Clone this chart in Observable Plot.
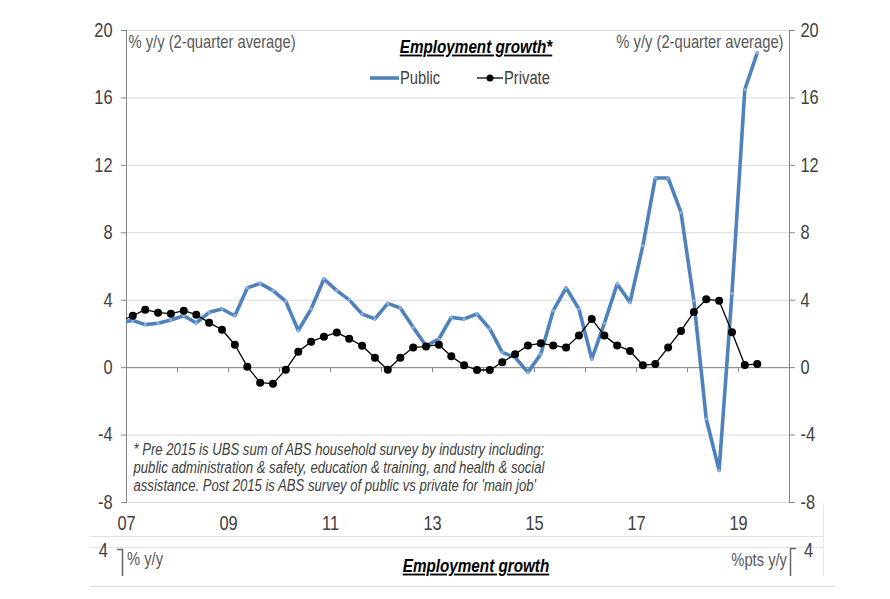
<!DOCTYPE html>
<html><head><meta charset="utf-8">
<script src="https://cdn.jsdelivr.net/npm/d3@7"></script>
<script src="https://cdn.jsdelivr.net/npm/@observablehq/plot@0.6"></script>
<style>html,body{margin:0;padding:0;background:#fff;} #chart{width:890px;height:599px;overflow:hidden}</style>
</head><body><div id="chart"></div>
<script>
// ---- data (quarterly, % y/y, 2-quarter average) ----
const quarters = [
  "2006Q4",
  "2007Q1","2007Q2","2007Q3","2007Q4",
  "2008Q1","2008Q2","2008Q3","2008Q4",
  "2009Q1","2009Q2","2009Q3","2009Q4",
  "2010Q1","2010Q2","2010Q3","2010Q4",
  "2011Q1","2011Q2","2011Q3","2011Q4",
  "2012Q1","2012Q2","2012Q3","2012Q4",
  "2013Q1","2013Q2","2013Q3","2013Q4",
  "2014Q1","2014Q2","2014Q3","2014Q4",
  "2015Q1","2015Q2","2015Q3","2015Q4",
  "2016Q1","2016Q2","2016Q3","2016Q4",
  "2017Q1","2017Q2","2017Q3","2017Q4",
  "2018Q1","2018Q2","2018Q3","2018Q4",
  "2019Q1","2019Q2"
];
const publicGrowth = [
  2.7,
  2.8, 2.55, 2.63, 2.83,
  3.08, 2.65, 3.28, 3.48,
  3.08, 4.73, 5.0, 4.57,
  3.93, 2.2, 3.48, 5.26,
  4.57, 4.02, 3.18, 2.89,
  3.81, 3.54, 2.39, 1.3,
  1.7, 2.98, 2.89, 3.18,
  2.3, 0.91, 0.61, -0.28,
  0.81, 3.38, 4.73, 3.48,
  0.51, 2.63, 4.96, 3.87,
  7.24, 11.25, 11.25, 9.21,
  3.97, -3.05, -6.1, 4.4,
  16.5, 18.67
];
const privateGrowth = [
  2.75,
  3.08, 3.44, 3.26, 3.2,
  3.38, 3.14, 2.67, 2.25,
  1.36, 0.06, -0.89, -0.95,
  -0.12, 0.95, 1.54, 1.84,
  2.08, 1.72, 1.3, 0.59,
  -0.12, 0.59, 1.19, 1.26,
  1.36, 0.67, 0.14, -0.14,
  -0.14, 0.32, 0.79, 1.32,
  1.44, 1.32, 1.19, 1.9,
  2.89, 1.9, 1.32, 0.99,
  0.14, 0.22, 1.2, 2.18,
  3.3, 4.05, 3.97, 2.1,
  0.16, 0.21
];
const yTicks = [-8, -4, 0, 4, 8, 12, 16, 20];
const xTickLabels = ["07", "09", "11", "13", "15", "17", "19"];
const seriesNames = ["Public", "Private"];
const footnote = [
  "* Pre 2015 is UBS sum of ABS household survey by industry including:",
  "public administration & safety, education & training, and health & social",
  "assistance. Post 2015 is ABS survey of public vs private for 'main job'"
];

const FAM = "'Liberation Sans', Arial, sans-serif";
const SQUEEZE = 0.82; // the original's type is horizontally condensed

const qDate = q => new Date(Date.UTC(+q.slice(0, 4), (+q.slice(5) - 1) * 3 + 1, 15));
const rows = quarters.map((q, i) => ({date: qDate(q), pub: publicGrowth[i], priv: privateGrowth[i]}));
const x0 = new Date(Date.UTC(2007, 0, 1)), x1 = new Date(Date.UTC(2020, 0, 1));
const inDomain = rows.filter(d => d.date >= x0 && d.date <= x1);
const labelDates = xTickLabels.map(s => new Date(Date.UTC(2000 + +s, 0, 1)));

const BLUE = "#4F81BD", AX = "#868686", GRID = "#d9d9d9", TXT = "#404040", TXT2 = "#595959";

const chart = Plot.plot({
  width: 890, height: 599,
  marginLeft: 126, marginRight: 101, marginTop: 30, marginBottom: 97,
  style: {fontFamily: FAM, fontSize: "20px", color: TXT, background: "#fff", overflow: "visible"},
  x: {type: "utc", domain: [x0, x1]},
  y: {domain: [-8, 20]},
  marks: [
    Plot.gridY(yTicks, {stroke: GRID, strokeOpacity: 1, strokeWidth: 1}),
    Plot.ruleY([0], {stroke: AX, strokeWidth: 1}),
    Plot.ruleX(d3.utcYears(x0, d3.utcYear.offset(x1, 1)), {y1: 0, y2: 0, insetBottom: -5, stroke: AX}),
    Plot.frame({anchor: "left", stroke: AX}),
    Plot.frame({anchor: "right", stroke: AX}),
    Plot.axisY(yTicks, {anchor: "left", tickSize: 5, tickPadding: 9, stroke: AX, color: TXT, fontSize: 20, tickFormat: d => String(d), label: null}),
    Plot.axisY(yTicks, {anchor: "right", tickSize: 5, tickPadding: 6, stroke: AX, color: TXT, fontSize: 20, tickFormat: d => String(d), label: null}),
    Plot.axisX(labelDates, {anchor: "bottom", tickSize: 0, tickPadding: 13, tickFormat: d3.utcFormat("%y"), color: TXT, fontSize: 20, label: null}),
    Plot.line(rows, {x: "date", y: "pub", stroke: BLUE, strokeWidth: 3.6, strokeLinejoin: "round", clip: true}),
    Plot.dot(inDomain, {x: "date", y: "pub", r: 1.6, fill: "#8fb0da", stroke: null}),
    Plot.line(rows, {x: "date", y: "priv", stroke: "#000", strokeWidth: 1.3, clip: true}),
    Plot.dot(inDomain, {x: "date", y: "priv", r: 4, fill: "#000", stroke: null}),
    Plot.text(["% y/y (2-quarter average)"], {frameAnchor: "top-left", textAnchor: "start", lineAnchor: "middle", dx: 2, dy: 12, fill: TXT2, fontSize: 18}),
    Plot.text(["% y/y (2-quarter average)"], {frameAnchor: "top-right", textAnchor: "end", lineAnchor: "middle", dx: -6, dy: 12, fill: TXT2, fontSize: 18}),
    Plot.text(["Employment growth*"], {frameAnchor: "top", lineAnchor: "middle", dx: 18, dy: 17, fill: "#000", fontSize: 18.6, fontWeight: "bold", fontStyle: "italic"}),
    Plot.text([footnote.join("\n")], {frameAnchor: "bottom-left", textAnchor: "start", lineAnchor: "bottom", dx: 7, dy: -12, lineHeight: 1.12, fill: TXT, fontSize: 16, fontStyle: "italic"})
  ]
});
document.getElementById("chart").appendChild(chart);

const svg = d3.select(chart);
svg.selectAll("text").filter(function () { return this.textContent === "Employment growth*"; })
  .attr("text-decoration", "underline");

// ---- legend ----
const lg = svg.append("g").attr("font-family", FAM).attr("font-size", 18).attr("fill", TXT).attr("text-anchor", "start");
lg.append("line").attr("x1", 370).attr("x2", 399).attr("y1", 78).attr("y2", 78).attr("stroke", BLUE).attr("stroke-width", 3.6);
lg.append("text").attr("x", 400).attr("y", 78).attr("dy", "0.35em").text(seriesNames[0]);
lg.append("line").attr("x1", 477).attr("x2", 503).attr("y1", 78).attr("y2", 78).attr("stroke", "#000").attr("stroke-width", 1.3);
lg.append("circle").attr("cx", 490).attr("cy", 78).attr("r", 3.5).attr("fill", "#000");
lg.append("text").attr("x", 504).attr("y", 78).attr("dy", "0.35em").text(seriesNames[1]);

// ---- cropped lower panel header ----
const bp = svg.append("g").attr("font-family", FAM).attr("fill", TXT).attr("text-anchor", "start");
bp.append("line").attr("x1", 90).attr("x2", 823).attr("y1", 536.5).attr("y2", 536.5).attr("stroke", "#e3e3e3");
bp.append("line").attr("x1", 90).attr("x2", 823).attr("y1", 547.5).attr("y2", 547.5).attr("stroke", "#e3e3e3");
bp.append("line").attr("x1", 823.5).attr("x2", 823.5).attr("y1", 503).attr("y2", 576).attr("stroke", "#e8e8e8");
bp.append("line").attr("x1", 90).attr("x2", 835).attr("y1", 586.5).attr("y2", 586.5).attr("stroke", "#dcdcdc");
bp.append("path").attr("d", "M117,549.5H122.5V576").attr("fill", "none").attr("stroke", "#666").attr("stroke-width", 1.5);
bp.append("path").attr("d", "M796,548.5H790.5V576").attr("fill", "none").attr("stroke", "#666").attr("stroke-width", 1.5);
bp.append("text").attr("x", 108).attr("y", 550).attr("dy", "0.35em").attr("text-anchor", "end").attr("font-size", 20).text("4");
bp.append("text").attr("x", 804).attr("y", 550).attr("dy", "0.35em").attr("font-size", 20).text("4");
bp.append("text").attr("x", 127).attr("y", 559).attr("dy", "0.35em").attr("font-size", 18).attr("fill", TXT2).text("% y/y");
bp.append("text").attr("x", 787).attr("y", 560).attr("dy", "0.35em").attr("text-anchor", "end").attr("font-size", 18).attr("fill", TXT2).text("%pts y/y");
bp.append("text").attr("x", 476).attr("y", 566).attr("dy", "0.35em").attr("text-anchor", "middle").attr("font-size", 18.6)
  .attr("font-weight", "bold").attr("font-style", "italic").attr("fill", "#000").attr("text-decoration", "underline").text("Employment growth");

// ---- condense all type horizontally around each text's anchor ----
svg.selectAll("text").each(function () {
  const x = +this.getAttribute("x") || 0;
  const t = this.getAttribute("transform") || "";
  this.setAttribute("transform", `${t} translate(${x},0) scale(${SQUEEZE},1) translate(${-x},0)`.trim());
});
</script>
</body></html>
